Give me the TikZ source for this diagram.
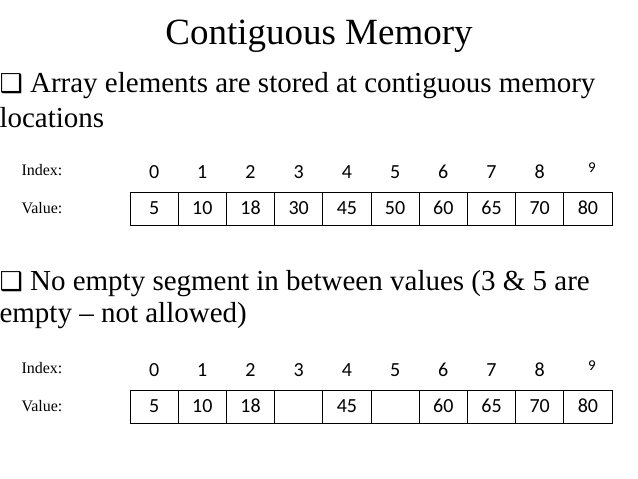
\documentclass[tikz,border=0pt]{standalone}
\usepackage{fontspec}
\setmainfont{Liberation Serif}
\newfontfamily\cellfont{Carlito}
\newfontfamily\symfont{DejaVu Sans}
\begin{document}
\begin{tikzpicture}[x=1pt, y=-1pt,
  cell/.style={draw, line width=0.8pt, minimum width=48.2pt, minimum height=33pt,
    inner sep=0pt, text height=13pt, text depth=1pt, font=\cellfont\fontsize{20}{22}\selectfont},
  idx/.style={text height=13pt, text depth=1pt, font=\cellfont\fontsize{20}{22}\selectfont},
  lbl/.style={anchor=west, font=\fontsize{16}{18}\selectfont},
  txt/.style={anchor=west, font=\fontsize{29}{30}\selectfont}]
\useasboundingbox (0,0) rectangle (638,479);
\node (title) at (319,36) {\fontsize{37}{40}\selectfont Contiguous Memory};
\node[txt] (b1) at (-4,86) {{\symfont\fontsize{26}{26}\selectfont ❑} Array elements are stored at contiguous memory};
\node[txt] (b1b) at (-4,118) {locations};
\node[txt] (b2) at (-4,284) {{\symfont\fontsize{26}{26}\selectfont ❑} No empty segment in between values (3 \& 5 are};
\node[txt] (b2b) at (-4,316) {empty -- not allowed)};
% first array
\node[lbl] (ia) at (18,170) {Index:};
\node[lbl] (va) at (18,208) {Value:};
\foreach \v [count=\i from 0] in {5,10,18,30,45,50,60,65,70,80} {
  \node[cell] (a\i) at (154.1+48.2*\i,208.5) {\v};
}
\foreach \i in {0,...,8} {
  \node[idx] (ai\i) at (154.1+48.2*\i,172) {\i};
}
\node[font=\cellfont\fontsize{15}{16}\selectfont] (ai9) at (592,168) {9};
% second array
\node[lbl] (ib) at (18,368) {Index:};
\node[lbl] (vb) at (18,406) {Value:};
\foreach \v [count=\i from 0] in {5,10,18,{},45,{},60,65,70,80} {
  \node[cell] (b\i) at (154.1+48.2*\i,406.5) {\v};
}
\foreach \i in {0,...,8} {
  \node[idx] (bi\i) at (154.1+48.2*\i,370) {\i};
}
\node[font=\cellfont\fontsize{15}{16}\selectfont] (bi9) at (592,366) {9};
\end{tikzpicture}
\end{document}
